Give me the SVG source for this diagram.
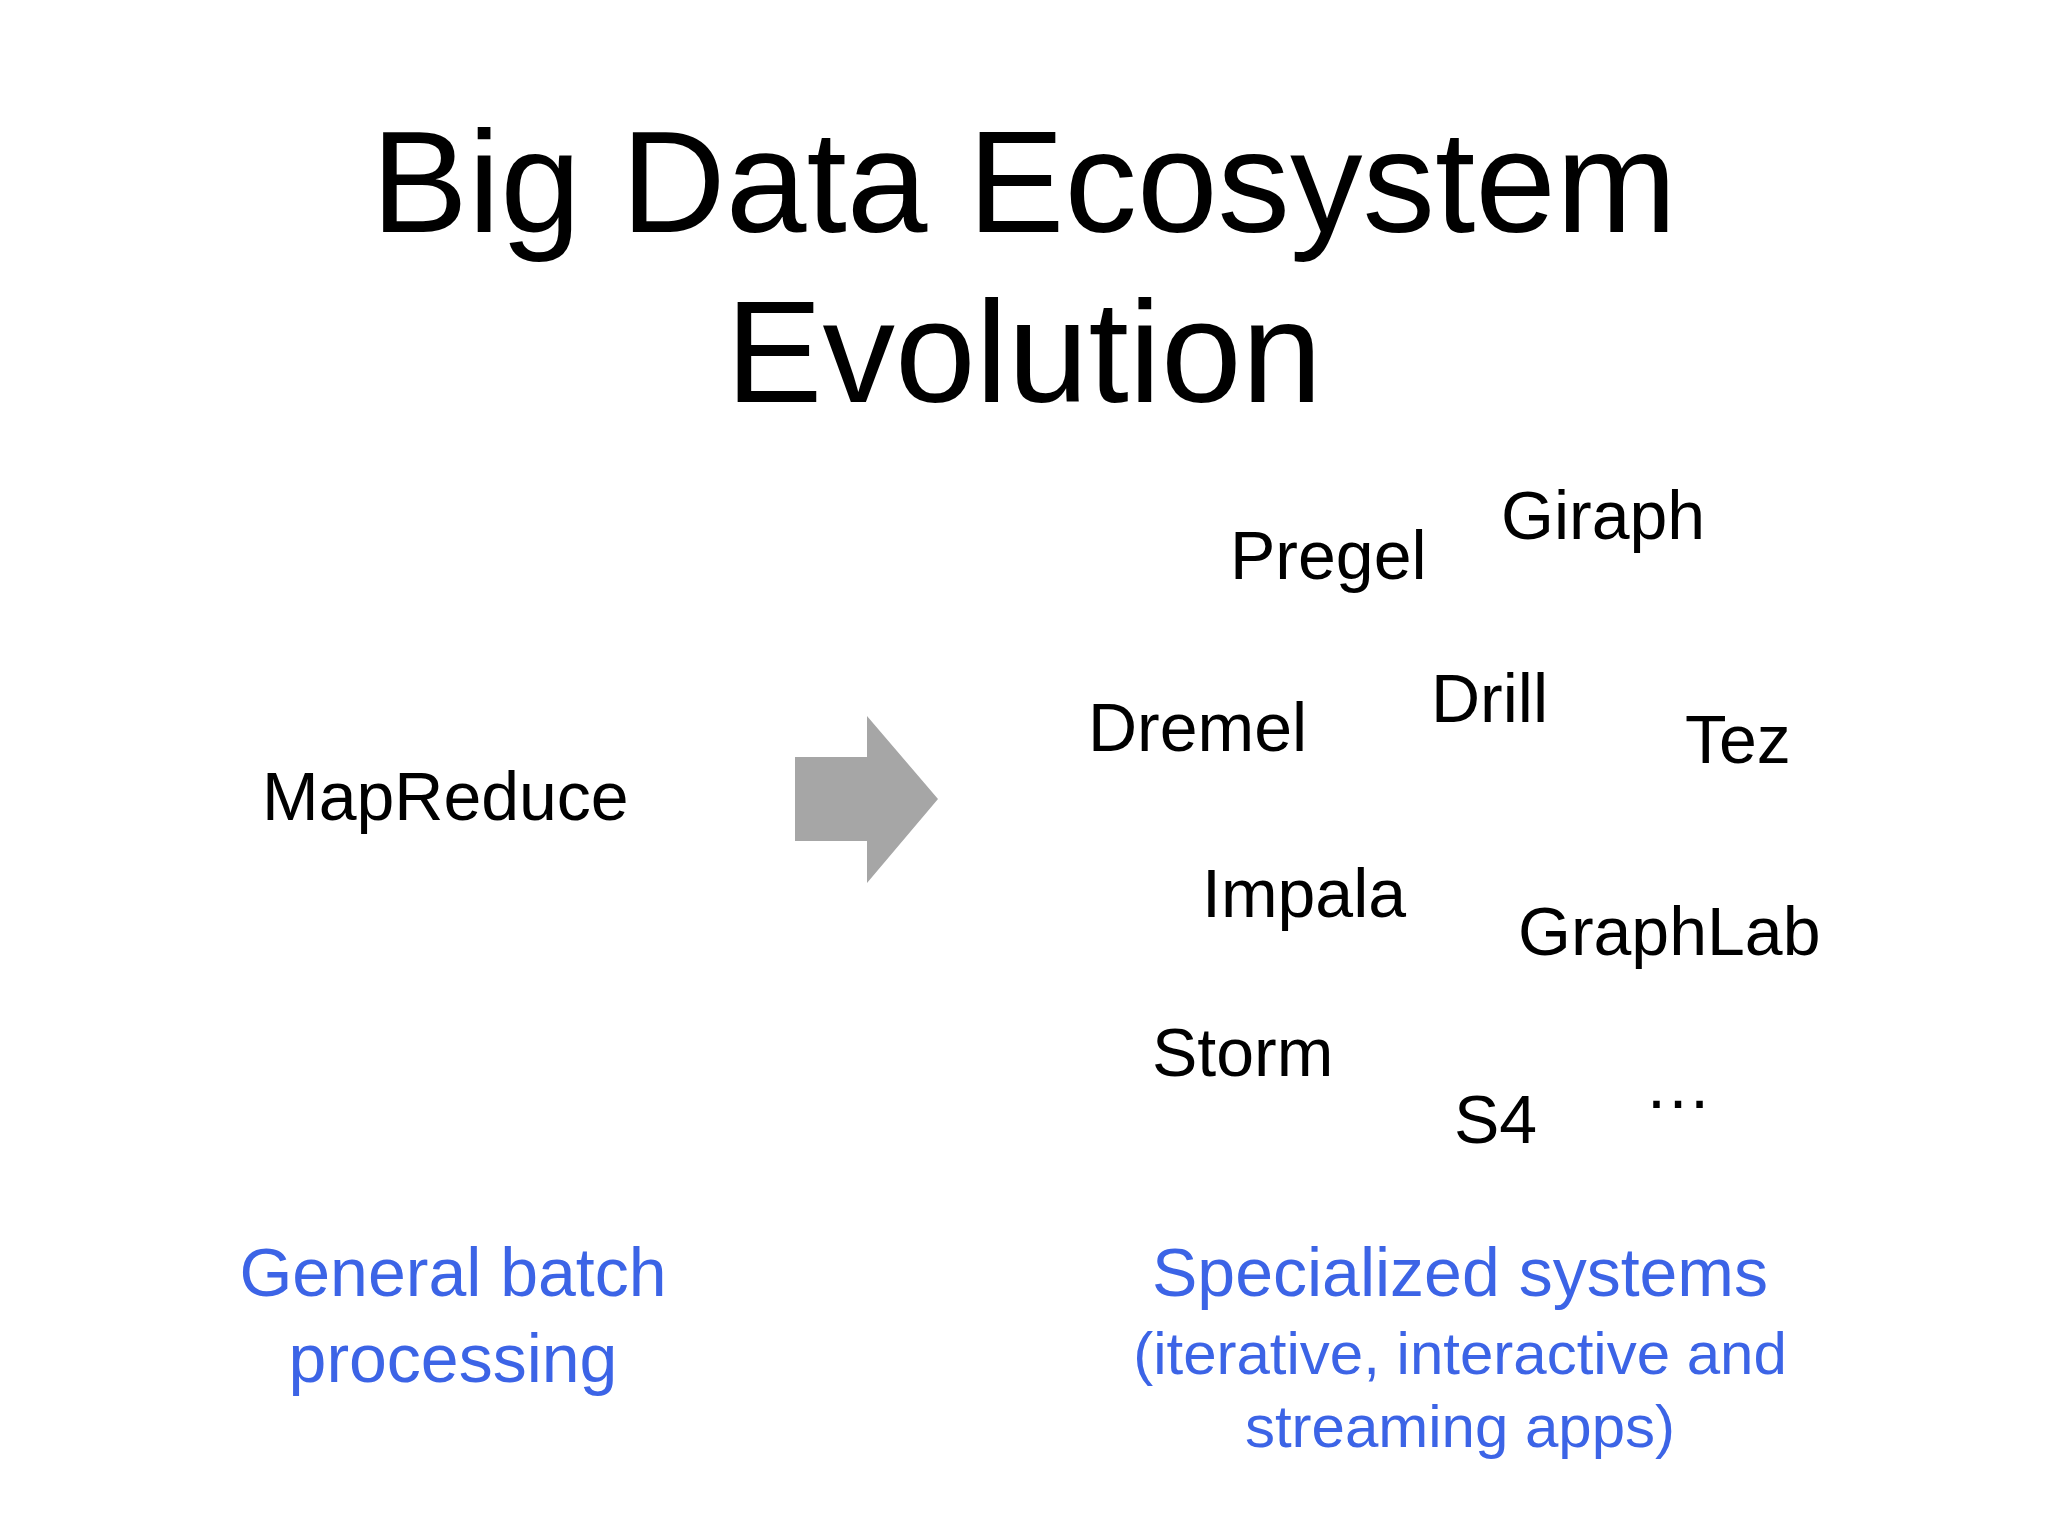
<svg xmlns="http://www.w3.org/2000/svg" width="2048" height="1536" viewBox="0 0 2048 1536">
<style>
text{font-family:"Liberation Sans",Arial,sans-serif}
.t{font-size:145px;fill:#000;text-anchor:middle}
.n{font-size:68px;fill:#000}
.b{font-size:68px;fill:#3c64e6;text-anchor:middle}
.s{font-size:60px;fill:#3c64e6;text-anchor:middle}
</style>
<rect width="2048" height="1536" fill="#fff"/>
<g id="title"><text class="t" x="1024" y="232">Big Data Ecosystem</text><text class="t" x="1024" y="402">Evolution</text></g>
<g id="mapreduce"><text class="n" x="262" y="820">MapReduce</text></g>
<g id="pregel"><text class="n" x="1230" y="579">Pregel</text></g>
<g id="giraph"><text class="n" x="1501" y="539">Giraph</text></g>
<g id="dremel"><text class="n" x="1088" y="751">Dremel</text></g>
<g id="drill"><text class="n" x="1431" y="722">Drill</text></g>
<g id="tez"><text class="n" x="1685" y="763">Tez</text></g>
<g id="impala"><text class="n" x="1202" y="917">Impala</text></g>
<g id="graphlab"><text class="n" x="1518" y="955">GraphLab</text></g>
<g id="storm"><text class="n" x="1152" y="1076">Storm</text></g>
<g id="s4"><text class="n" x="1454" y="1143">S4</text></g>
<g id="more"><text class="n" x="1644" y="1108">…</text></g>
<g id="connectors"><polygon points="795,757 867,757 867,716 938,799 867,883 867,841 795,841" fill="#a6a6a6"/></g>
<g id="label-left"><text class="b" x="453" y="1296">General batch</text><text class="b" x="453" y="1382">processing</text></g>
<g id="label-right"><text class="b" x="1460" y="1296">Specialized systems</text><text class="s" x="1460" y="1374">(iterative, interactive and</text><text class="s" x="1460" y="1447">streaming apps)</text></g>
</svg>
